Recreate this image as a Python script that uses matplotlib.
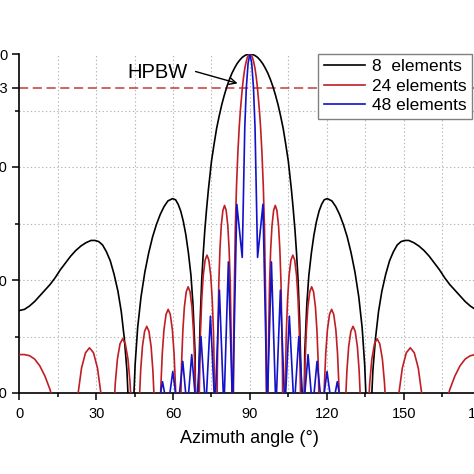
import matplotlib
matplotlib.use("Agg")
import matplotlib.pyplot as plt

plt.rcParams['font.family'] = ['Liberation Sans', 'DejaVu Sans']

# ---------------- data ----------------
labels = ["8  elements", "24 elements", "48 elements"]
hpbw_level = -3

# 8 elements
x8 = [0, 2, 4, 6, 8, 10, 12, 14, 16, 18, 20, 22, 24, 26, 28, 29.5, 31, 32.5, 34, 35.5,
      37, 38.5, 39.8, 41, 42, 42.8, 43.6, 44.4, 45.2, 46.2, 47.5, 49, 50.5, 52, 53.5,
      55, 56.5, 58, 59.8, 61, 62, 63, 64, 65, 66, 67, 67.8, 68.6, 69.3, 70.1, 70.6,
      71.2, 71.8, 72.4, 73.1, 73.8, 75, 76, 77, 78, 79, 80, 81, 82, 83, 84, 85, 86,
      87, 88, 89, 90,
      91, 92, 93, 94, 95, 96, 97, 98, 99, 100, 101, 102, 103, 104, 105, 106.2, 106.9,
      107.6, 108.2, 108.8, 109.4, 109.9, 110.7, 111.4, 112.2, 113, 114, 115, 116, 117,
      118, 119, 120.2, 122, 123.5, 125, 126.5, 128, 129.5, 131, 132.5, 133.8, 134.8,
      135.6, 136.4, 137.2, 138, 139, 140.2, 141.5, 143, 144.5, 146, 147.5, 149, 150.5,
      152, 154, 156, 158, 160, 162, 164, 166, 168, 170, 172, 174, 176, 178, 180]
y8 = [-22.7, -22.6, -22.3, -21.9, -21.4, -20.9, -20.4, -19.8, -19.1, -18.5, -17.9, -17.4,
      -17.0, -16.7, -16.5, -16.5, -16.6, -16.9, -17.5, -18.3, -19.5, -21.0, -22.8, -25.2,
      -28.0, -32.0, -45.0, -32.0, -27.5, -24.2, -21.5, -19.3, -17.6, -16.2, -15.1, -14.2,
      -13.5, -13.0, -12.8, -12.9, -13.3, -13.9, -14.8, -16.0, -17.6, -19.6, -22.2, -26.5,
      -45.0, -27.9, -23.5, -20.0, -17.6, -15.6, -13.7, -12.0, -9.5, -8.0, -6.6, -5.5,
      -4.5, -3.65, -2.9, -2.25, -1.7, -1.25, -0.85, -0.55, -0.3, -0.14, -0.04, 0.0,
      -0.04, -0.14, -0.3, -0.55, -0.85, -1.25, -1.7, -2.25, -2.9, -3.65, -4.5, -5.5,
      -6.6, -8.0, -9.5, -12.0, -13.7, -15.6, -17.6, -20.0, -23.5, -27.9, -45.0, -26.5,
      -22.2, -19.6, -17.6, -16.0, -14.8, -13.9, -13.3, -12.9, -12.8, -13.0, -13.5,
      -14.2, -15.1, -16.2, -17.6, -19.3, -21.5, -24.2, -27.5, -32.0, -45.0, -32.0,
      -28.0, -25.2, -22.8, -21.0, -19.5, -18.3, -17.5, -16.9, -16.6, -16.5, -16.5,
      -16.7, -17.0, -17.4, -17.9, -18.5, -19.1, -19.8, -20.4, -20.9, -21.4, -21.9,
      -22.3, -22.6, -22.7]

# 24 elements
x24 = [0, 2, 4, 6, 8, 10, 12, 13.5, 16, 19.6,
       20.54, 21.94, 23.03, 24.28, 25.84, 27.4, 28.96, 30.52, 31.77, 32.86, 34.26, 35.2,
       35.82, 36.75, 37.47, 38.29, 39.32, 40.35, 41.38, 42.41, 43.23, 43.96, 44.88, 45.5,
       46.01, 46.78, 47.37, 48.05, 48.9, 49.75, 50.6, 51.45, 52.13, 52.73, 53.49, 54.0,
       54.49, 55.23, 55.8, 56.46, 57.28, 58.1, 58.92, 59.74, 60.4, 60.97, 61.71, 62.2,
       62.64, 63.31, 63.83, 64.42, 65.16, 65.9, 66.64, 67.38, 67.97, 68.49, 69.16, 69.6,
       70.04, 70.7, 71.21, 71.79, 72.52, 73.25, 73.98, 74.71, 75.29, 75.8, 76.46, 76.9,
       77.28, 77.86, 78.31, 78.82, 79.46, 80.1, 80.74, 81.38, 81.89, 82.34, 82.92, 83.3,
       83.7, 84.31, 84.77, 85.31, 85.85, 86.32, 87.05, 87.52, 87.99, 88.53, 88.99, 89.46,
       90,
       90.54, 91.01, 91.47, 92.01, 92.48, 92.95, 93.68, 94.15, 94.69, 95.23, 95.69, 96.3,
       96.7,
       97.08, 97.66, 98.11, 98.62, 99.26, 99.9, 100.54, 101.18, 101.69, 102.14, 102.72,
       103.1,
       103.54, 104.2, 104.71, 105.29, 106.02, 106.75, 107.48, 108.21, 108.79, 109.3,
       109.96, 110.4,
       110.84, 111.51, 112.03, 112.62, 113.36, 114.1, 114.84, 115.58, 116.17, 116.69,
       117.36, 117.8,
       118.29, 119.03, 119.6, 120.26, 121.08, 121.9, 122.72, 123.54, 124.2, 124.77,
       125.51, 126.0,
       126.51, 127.27, 127.87, 128.55, 129.4, 130.25, 131.1, 131.95, 132.63, 133.22,
       133.99, 134.5,
       135.12, 136.04, 136.77, 137.59, 138.62, 139.65, 140.68, 141.71, 142.53, 143.25,
       144.18, 144.8,
       145.74, 147.14, 148.23, 149.48, 151.04, 152.6, 154.16, 155.72, 156.97, 158.06,
       159.46, 160.4,
       164, 166.5, 168, 170, 172, 174, 176, 178, 180]
y24 = [-26.6, -26.6, -26.7, -27.0, -27.6, -28.5, -29.7, -31.0, -40.0, -45.0,
       -40.6, -32.9, -29.9, -27.8, -26.44, -26.0, -26.44, -27.8, -29.9, -32.9, -40.6, -45.0,
       -39.8, -32.1, -29.1, -27.0, -25.64, -25.2, -25.64, -27.0, -29.1, -32.1, -39.8, -45.0,
       -38.7, -31.0, -28.0, -25.9, -24.54, -24.1, -24.54, -25.9, -28.0, -31.0, -38.7, -45.0,
       -37.2, -29.5, -26.5, -24.4, -23.04, -22.6, -23.04, -24.4, -26.5, -29.5, -37.2, -45.0,
       -35.2, -27.5, -24.5, -22.4, -21.04, -20.6, -21.04, -22.4, -24.5, -27.5, -35.2, -45.0,
       -32.4, -24.7, -21.7, -19.6, -18.24, -17.8, -18.24, -19.6, -21.7, -24.7, -32.4, -45.0,
       -28.0, -20.3, -17.3, -15.2, -13.84, -13.4, -13.84, -15.2, -17.3, -20.3, -28.0, -45.0,
       -23.9, -15.4, -11.7, -8.7, -6.4, -4.9, -3.0, -2.05, -1.3, -0.70, -0.32, -0.09,
       0.0,
       -0.09, -0.32, -0.70, -1.3, -2.05, -3.0, -4.9, -6.4, -8.7, -11.7, -15.4, -23.9,
       -45.0,
       -28.0, -20.3, -17.3, -15.2, -13.84, -13.4, -13.84, -15.2, -17.3, -20.3, -28.0,
       -45.0,
       -32.4, -24.7, -21.7, -19.6, -18.24, -17.8, -18.24, -19.6, -21.7, -24.7, -32.4,
       -45.0,
       -35.2, -27.5, -24.5, -22.4, -21.04, -20.6, -21.04, -22.4, -24.5, -27.5, -35.2,
       -45.0,
       -37.2, -29.5, -26.5, -24.4, -23.04, -22.6, -23.04, -24.4, -26.5, -29.5, -37.2,
       -45.0,
       -38.7, -31.0, -28.0, -25.9, -24.54, -24.1, -24.54, -25.9, -28.0, -31.0, -38.7,
       -45.0,
       -39.8, -32.1, -29.1, -27.0, -25.64, -25.2, -25.64, -27.0, -29.1, -32.1, -39.8,
       -45.0,
       -40.6, -32.9, -29.9, -27.8, -26.44, -26.0, -26.44, -27.8, -29.9, -32.9, -40.6,
       -45.0,
       -40.0, -31.0, -29.7, -28.5, -27.6, -27.0, -26.7, -26.6, -26.6]

# 48 elements
x48 = [46, 50.0, 52.0, 54.0, 55.9, 57.9, 59.9, 61.85, 63.8, 65.55, 67.3, 69.1, 70.9,
       72.75, 74.6, 76.35, 78.1, 79.85, 81.6, 83.25, 84.9, 87.0,
       88.0, 88.6, 89.3, 90, 90.7, 91.4, 92.0,
       93.0, 95.1, 96.75, 98.4, 100.15, 101.9, 103.65, 105.4, 107.25, 109.1, 110.9,
       112.7, 114.45, 116.2, 118.15, 120.1, 122.1, 124.1, 126.0, 128.0, 130.0, 134]
y48 = [-40, -31.5, -30.2, -31.5, -29.0, -31.5, -28.1, -31.5, -27.2, -31.5, -26.6, -31.5,
       -25.0, -31.5, -23.2, -31.5, -20.9, -31.5, -18.4, -31.5, -13.3, -18.0,
       -6.5, -3.0, -0.8, 0.0, -0.8, -3.0, -6.5,
       -18.0, -13.3, -31.5, -18.4, -31.5, -20.9, -31.5, -23.2, -31.5, -25.0, -31.5,
       -26.6, -31.5, -27.2, -31.5, -28.1, -31.5, -29.0, -31.5, -30.2, -31.5, -40]

x_ticks = [0, 30, 60, 90, 120, 150, 180]
y_ticks = [0, -3, -10, -20, -30]

# ---------------- figure ----------------
fig = plt.figure(figsize=(4.74, 4.74), dpi=100)
ax = fig.add_axes([19.3 / 474, 81 / 474, 461.2 / 474, 339 / 474])

red = '#C01E25'
blue = '#1212C8'

for gx in range(15, 180, 15):
    ax.axvline(gx, color='#b5b5b5', lw=0.8, ls=(0, (1.2, 2.2)), zorder=0)
for gy in [-5, -10, -15, -20, -25]:
    ax.axhline(gy, color='#b5b5b5', lw=0.8, ls=(0, (1.2, 2.2)), zorder=0)

ax.axhline(hpbw_level, color='#C23B3B', lw=1.1, dashes=(6, 3), zorder=1)

ax.plot(x8, y8, color='black', lw=1.2, label=labels[0], zorder=2)
ax.plot(x24, y24, color=red, lw=1.2, label=labels[1], zorder=3)
ax.plot(x48, y48, color=blue, lw=1.2, label=labels[2], zorder=4)

ax.set_xlim(0, 180)
ax.set_ylim(-30, 0)
ax.set_xticks(x_ticks)
ax.set_xticks(range(15, 180, 30), minor=True)
ax.set_yticks(y_ticks)
ax.set_yticks([-5, -15, -25], minor=True)
ax.tick_params(axis='both', which='major', direction='out', length=5, width=1.1,
               labelsize=10.5, color='black')
ax.tick_params(axis='both', which='minor', direction='out', length=3, width=1.1)
ax.tick_params(axis='x', which='major', pad=5)
ax.tick_params(axis='y', which='major', pad=3.5)

for s in ['top', 'right']:
    ax.spines[s].set_visible(False)
for s in ['left', 'bottom']:
    ax.spines[s].set_linewidth(1.2)

ax.set_xlabel('Azimuth angle (°)', fontsize=13)
ax.xaxis.set_label_coords(0.5, -0.108)

ax.text(54.1, -1.6, 'HPBW', fontsize=14.5, ha='center', va='center')
ax.annotate('', xy=(85.2, -2.6), xytext=(68.8, -1.55),
            arrowprops=dict(arrowstyle='->', lw=1.0, color='black',
                            shrinkA=0, shrinkB=0, mutation_scale=12))

leg = fig.legend(loc='upper right', bbox_to_anchor=(472 / 474, 1 - 54 / 474),
                 fontsize=12.5, frameon=True, fancybox=False, framealpha=1,
                 edgecolor='#808080', handlelength=2.4, handletextpad=0.4,
                 labelspacing=0.25, borderpad=0.3, borderaxespad=0)
leg.get_frame().set_linewidth(1.0)

fig.savefig('out.png', dpi=100)
